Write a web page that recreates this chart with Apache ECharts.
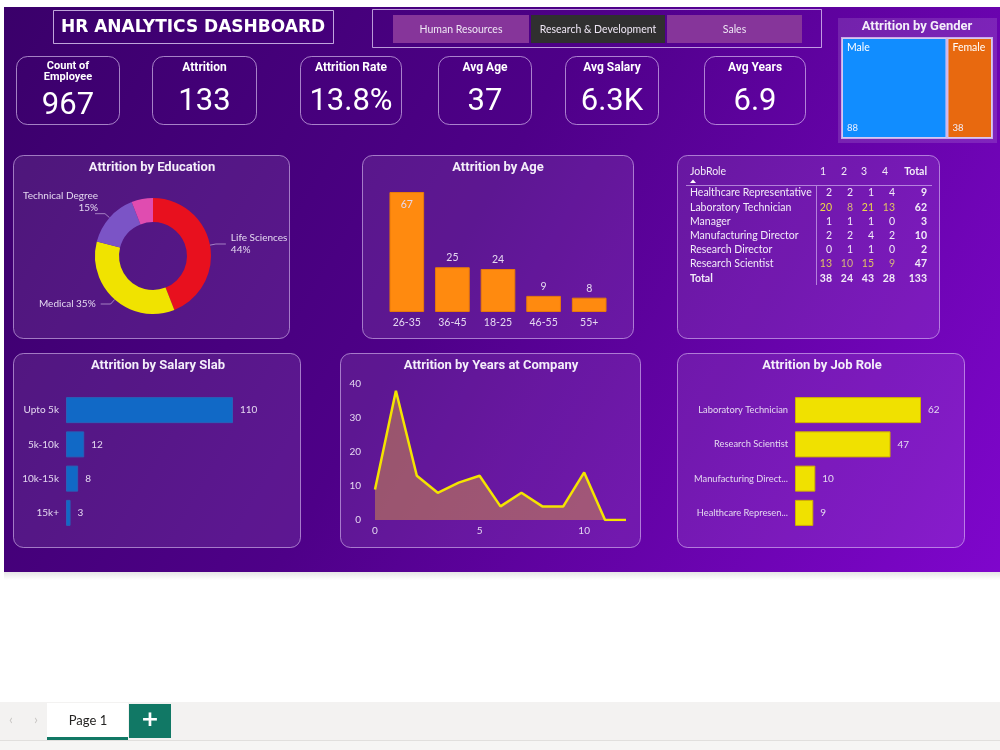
<!DOCTYPE html>
<html><head><meta charset="utf-8">
<script src="https://cdn.jsdelivr.net/npm/echarts@6/dist/echarts.min.js"></script>
<style>html,body{margin:0;padding:0;background:#fff}#c{width:1000px;height:750px}</style>
</head><body><div id="c"></div>
<script>
// ---------------- DATA ----------------
const dashTitle = 'HR ANALYTICS DASHBOARD';
const departments = ['Human Resources', 'Research & Development', 'Sales'];
const kpiTitles = ['Count of\nEmployee', 'Attrition', 'Attrition Rate', 'Avg Age', 'Avg Salary', 'Avg Years'];
const kpiValues = ['967', '133', '13.8%', '37', '6.3K', '6.9'];
const genderNames = ['Male', 'Female'];
const genderValues = [88, 38];
const eduNames = ['Life Sciences', 'Medical', 'Technical Degree', 'Marketing'];
const eduValues = [44, 35, 15, 6];
const ageCats = ['26-35', '36-45', '18-25', '46-55', '55+'];
const ageValues = [67, 25, 24, 9, 8];
const salaryCats = ['Upto 5k', '5k-10k', '10k-15k', '15k+'];
const salaryValues = [110, 12, 8, 3];
const yearsAtCompany = [0, 1, 2, 3, 4, 5, 6, 7, 8, 9, 10, 11, 12];
const yearsValues = [9, 38, 13, 8, 11, 13, 4, 8, 4, 4, 14, 0, 0];
const roleCats = ['Laboratory Technician', 'Research Scientist', 'Manufacturing Director', 'Healthcare Representative'];
const roleValues = [62, 47, 10, 9];
const tableRoles = ['Healthcare Representative', 'Laboratory Technician', 'Manager', 'Manufacturing Director', 'Research Director', 'Research Scientist'];
const tableCols = ['1', '2', '3', '4'];
const tableValues = [
  [2, 2, 1, 4],
  [20, 8, 21, 13],
  [1, 1, 1, 0],
  [2, 2, 4, 2],
  [0, 1, 1, 0],
  [13, 10, 15, 9]
];

// ---------------- STYLE ----------------
const TXT = '#f2ebf8';
const LBL = '#e4d8f0';
const F = 'Lato, "Noto Sans", sans-serif';
const FT = 'Roboto, sans-serif';
const PANEL_FILL = 'rgba(255,255,255,0.09)';
const PANEL_STROKE = 'rgba(235,215,255,0.55)';

const g = [];
function rect(x, y, w, h, style, r, z) {
  g.push({ type: 'rect', silent: true, z: z || 0, shape: { x: x, y: y, width: w, height: h, r: r || 0 }, style: style });
}
function text(t, x, y, opt) {
  g.push({ type: 'text', silent: true, z: 20, style: Object.assign({ text: t, x: x, y: y, fill: TXT, fontSize: 11, fontFamily: F, align: 'center', verticalAlign: 'middle' }, opt || {}) });
}
function line(x1, y1, x2, y2, color, w) {
  g.push({ type: 'line', silent: true, z: 15, shape: { x1: x1, y1: y1, x2: x2, y2: y2 }, style: { stroke: color, lineWidth: w || 1 } });
}

// page background
rect(0, 0, 1000, 750, { fill: '#ffffff' });
// dashboard background
rect(4, 7, 996, 565, { fill: { type: 'linear', x: 0, y: 0, x2: 1, y2: 1, colorStops: [
  { offset: 0, color: '#3a006a' }, { offset: 0.45, color: '#4e0088' }, { offset: 1, color: '#7f06cc' }] } });
// shadow below dashboard
rect(4, 572, 996, 8, { fill: { type: 'linear', x: 0, y: 0, x2: 0, y2: 1, colorStops: [
  { offset: 0, color: 'rgba(0,0,0,0.10)' }, { offset: 1, color: 'rgba(0,0,0,0)' }] } });
// tab bar
rect(0, 702, 1000, 38, { fill: '#f3f2f1' });
rect(0, 740, 1000, 10, { fill: '#f6f5f4' });
line(0, 740.5, 1000, 740.5, '#e1dfdd', 1);
rect(47, 703, 81, 37, { fill: '#ffffff' });
rect(47, 737, 81, 3, { fill: '#117865' });
text('Page 1', 88, 721, { fill: '#252423', fontSize: 13, fontFamily: F });
rect(129, 704, 42, 34, { fill: '#117865' });
text('+', 150, 720, { fill: '#ffffff', fontSize: 22, fontWeight: 'bold', fontFamily: 'DejaVu Sans' });
text('\u2039', 11, 719, { fill: '#c8c6c4', fontSize: 14 });
text('\u203A', 36, 719, { fill: '#c8c6c4', fontSize: 14 });

// title box
rect(53.5, 10.5, 280, 33, { fill: 'none', stroke: 'rgba(235,220,255,0.75)', lineWidth: 1 });
text(dashTitle, 193, 27.5, { fontSize: 17, fontWeight: 'bold', fontFamily: '"DejaVu Sans"', fill: '#ffffff' });

// slicer
rect(372.5, 9.5, 449, 38, { fill: 'none', stroke: 'rgba(235,220,255,0.7)', lineWidth: 1 });
const slicerX = [393, 531, 667];
const slicerW = [136, 134, 135];
departments.forEach(function (d, i) {
  rect(slicerX[i], 15, slicerW[i], 28, { fill: i === 1 ? '#303030' : '#86359a' });
  text(d, slicerX[i] + slicerW[i] / 2, 29.5, { fontSize: 10.5, fill: '#eee6f4' });
});

// KPI cards
const kpiBox = [[16.5, 103], [152.5, 104], [300.5, 101], [438.5, 93], [565.5, 93], [704.5, 101]];
kpiTitles.forEach(function (t, i) {
  const b = kpiBox[i];
  rect(b[0], 56.5, b[1], 68, { fill: 'none', stroke: 'rgba(235,215,255,0.6)', lineWidth: 1 }, 11);
  const cx = b[0] + b[1] / 2;
  if (t.indexOf('\n') >= 0) {
    text(t, cx, 71.5, { fontSize: 11, fontWeight: 'bold', fontFamily: FT, lineHeight: 11.5, fill: '#ffffff' });
    text(kpiValues[i], cx, 106, { fontSize: 31, fontFamily: FT, fill: '#ffffff' });
  } else {
    text(t, cx, 67.5, { fontSize: 12, fontWeight: 'bold', fontFamily: FT, fill: '#ffffff' });
    text(kpiValues[i], cx, 102, { fontSize: 31, fontFamily: FT, fill: '#ffffff' });
  }
});

// gender panel
rect(838, 18, 159, 125, { fill: 'rgba(255,255,255,0.13)' });
text('Attrition by Gender', 917, 26.5, { fontSize: 13, fontWeight: 'bold', fontFamily: FT, fill: '#f4eefa' });

// panels
const panels = [
  [13.5, 155.5, 276, 183, 'Attrition by Education', 152, 168],
  [362.5, 155.5, 271, 183, 'Attrition by Age', 498, 168],
  [677.5, 155.5, 262, 183, null, 0, 0],
  [13.5, 353.5, 287, 194, 'Attrition by Salary Slab', 158, 366],
  [340.5, 353.5, 300, 194, 'Attrition by Years at Company', 491, 366],
  [677.5, 353.5, 287, 194, 'Attrition by Job Role', 822, 366]
];
panels.forEach(function (p) {
  rect(p[0], p[1], p[2], p[3], { fill: PANEL_FILL, stroke: PANEL_STROKE, lineWidth: 1 }, 10);
  if (p[4]) text(p[4], p[5], p[6], { fontSize: 13, fontWeight: 'bold', fontFamily: FT, fill: '#f4eefa' });
});

// matrix table
const colHeadX = [823, 844, 864, 885];
const colRight = [832, 853, 874, 895];
const totRight = 927;
const rowY0 = 193, rowStep = 14.2;
function cellColor(v) {
  if (v >= 20) return '#eddc48';
  if (v >= 13) return '#e0c462';
  if (v >= 8) return '#d5b57c';
  return TXT;
}
text('JobRole', 690, 172, { align: 'left', fontSize: 10.5 });
g.push({ type: 'polygon', silent: true, z: 20, shape: { points: [[690, 183], [696, 183], [693, 179.5]] }, style: { fill: '#ffffff' } });
tableCols.forEach(function (c, j) { text(c, colHeadX[j], 172, { fontSize: 10.5 }); });
text('Total', totRight, 172, { align: 'right', fontSize: 10.5, fontWeight: 'bold' });
line(686, 185.5, 932, 185.5, 'rgba(235,215,255,0.55)', 1);
line(816.5, 186, 816.5, 285, 'rgba(235,215,255,0.55)', 1);
const colTotals = [0, 0, 0, 0];
let grand = 0;
tableRoles.forEach(function (r, i) {
  const y = rowY0 + i * rowStep;
  text(r, 690, y, { align: 'left', fontSize: 10.5 });
  let s = 0;
  tableValues[i].forEach(function (v, j) {
    text(String(v), colRight[j], y, { align: 'right', fontSize: 10.5, fill: cellColor(v) });
    s += v; colTotals[j] += v;
  });
  grand += s;
  text(String(s), totRight, y, { align: 'right', fontSize: 10.5, fontWeight: 'bold' });
});
const ty = rowY0 + tableRoles.length * rowStep;
text('Total', 690, ty, { align: 'left', fontSize: 10.5, fontWeight: 'bold' });
colTotals.forEach(function (v, j) { text(String(v), colRight[j], ty, { align: 'right', fontSize: 10.5, fontWeight: 'bold' }); });
text(String(grand), totRight, ty, { align: 'right', fontSize: 10.5, fontWeight: 'bold' });

// ---------------- CHART ----------------
const genderColors = ['#118dff', '#e8690f'];
const eduColors = ['#e8101e', '#f0e300', '#7b54c6', '#e04cb0'];
const eduLabelFmt = ['{b}\n{d}%', '{b} {d}%', '{b}\n{d}%', null];
const maxAge = Math.max.apply(null, ageValues);

const axisLbl = { color: LBL, fontSize: 10, fontFamily: F };
const option = {
  animation: false,
  graphic: g,
  grid: [
    { left: 384, top: 192, width: 228, height: 120, containLabel: false, outerBoundsMode: 'none' },
    { left: 66, top: 393, width: 167, height: 137, containLabel: false, outerBoundsMode: 'none' },
    { left: 375, top: 384, width: 251, height: 136, containLabel: false, outerBoundsMode: 'none' },
    { left: 795, top: 393, width: 126, height: 137, containLabel: false, outerBoundsMode: 'none' }
  ],
  xAxis: [
    { gridIndex: 0, type: 'category', data: ageCats, axisLine: { show: false }, axisTick: { show: false }, axisLabel: Object.assign({}, axisLbl, { fontSize: 10.5, margin: 5 }) },
    { gridIndex: 1, type: 'value', min: 0, max: 110, show: false, splitLine: { show: false } },
    { gridIndex: 2, type: 'value', min: 0, max: 12, interval: 5, axisLine: { show: false }, axisTick: { show: false }, splitLine: { show: false }, axisLabel: Object.assign({}, axisLbl, { margin: 6, showMaxLabel: false }) },
    { gridIndex: 3, type: 'value', min: 0, max: 62, show: false, splitLine: { show: false } }
  ],
  yAxis: [
    { gridIndex: 0, type: 'value', min: 0, max: maxAge, show: false, splitLine: { show: false } },
    { gridIndex: 1, type: 'category', data: salaryCats, inverse: true, axisLine: { show: false }, axisTick: { show: false }, axisLabel: Object.assign({}, axisLbl, { margin: 7 }) },
    { gridIndex: 2, type: 'value', min: 0, max: 40, interval: 10, axisLine: { show: false }, axisTick: { show: false }, splitLine: { show: false }, axisLabel: Object.assign({}, axisLbl, { margin: 14 }) },
    { gridIndex: 3, type: 'category', data: roleCats, inverse: true, axisLine: { show: false }, axisTick: { show: false }, axisLabel: Object.assign({}, axisLbl, { fontSize: 9.3, margin: 7, width: 95, overflow: 'truncate', ellipsis: '...' }) }
  ],
  series: [
    {
      type: 'treemap', left: 841, top: 37, width: 152, height: 102,
      roam: false, nodeClick: false, breadcrumb: { show: false },
      itemStyle: { borderColor: 'rgba(220,205,245,0.8)', borderWidth: 1, gapWidth: 1 },
      label: {
        show: true, position: 'insideTopLeft', padding: [3, 4, 0, 4],
        formatter: '{n|{b}}\n{s| }\n{v|{c}}',
        rich: {
          n: { color: '#ffffff', fontSize: 10.5, lineHeight: 12, fontFamily: F },
          s: { fontSize: 8, lineHeight: 68 },
          v: { color: '#f0f0ff', fontSize: 9.5, lineHeight: 12, fontFamily: F }
        }
      },
      data: genderNames.map(function (n, i) { return { name: n, value: genderValues[i], itemStyle: { color: genderColors[i] } }; })
    },
    {
      type: 'pie', center: [153, 256], radius: [34, 58], startAngle: 90, clockwise: true,
      label: { color: LBL, fontSize: 10, lineHeight: 12, fontFamily: F },
      labelLine: { length: 6, length2: 10, lineStyle: { color: 'rgba(230,215,245,0.55)', width: 1 } },
      labelLayout: function (p) { return p.dataIndex === 2 ? { dy: -12, dx: 8 } : {}; },
      data: eduNames.map(function (n, i) {
        const fmt = eduLabelFmt[i];
        return { name: n, value: eduValues[i], itemStyle: { color: eduColors[i] },
          label: fmt ? { show: true, formatter: fmt } : { show: false }, labelLine: { show: !!fmt } };
      })
    },
    {
      type: 'bar', xAxisIndex: 0, yAxisIndex: 0, barCategoryGap: '24%',
      itemStyle: { color: '#ff8a0f', borderColor: '#e87a08', borderWidth: 1 },
      label: { show: true, position: 'top', distance: 4, color: LBL, fontSize: 10.5, fontFamily: F },
      data: ageValues.map(function (v) { return v === maxAge ? { value: v, label: { position: 'insideTop', distance: 7 } } : v; })
    },
    {
      type: 'bar', xAxisIndex: 1, yAxisIndex: 1, barCategoryGap: '24%',
      itemStyle: { color: '#1169c6', borderColor: '#2a5fb8', borderWidth: 1 },
      label: { show: true, position: 'right', distance: 7, color: LBL, fontSize: 10, fontFamily: F },
      data: salaryValues
    },
    {
      type: 'line', xAxisIndex: 2, yAxisIndex: 2, symbol: 'none',
      lineStyle: { color: '#f4e400', width: 2.5 },
      itemStyle: { color: '#f4e400' },
      areaStyle: { color: 'rgba(215,150,70,0.7)' },
      data: yearsAtCompany.map(function (x, i) { return [x, yearsValues[i]]; })
    },
    {
      type: 'bar', xAxisIndex: 3, yAxisIndex: 3, barCategoryGap: '24%',
      itemStyle: { color: '#f0e100', borderColor: '#d2b000', borderWidth: 1 },
      label: { show: true, position: 'right', distance: 7, color: LBL, fontSize: 10, fontFamily: F },
      data: roleValues
    }
  ]
};
const chart = echarts.init(document.getElementById('c'), null, { renderer: 'canvas', width: 1000, height: 750 });
chart.setOption(option);
</script>
</body></html>
